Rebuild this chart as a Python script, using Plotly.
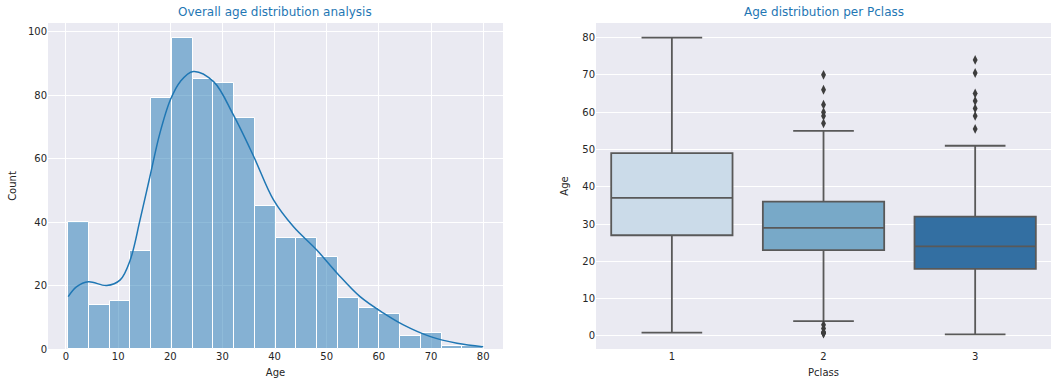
import plotly.graph_objects as go
from plotly.subplots import make_subplots

# ---- Data: histogram of Age ----
age_min = 0.42
age_max = 80.0
hist_counts = [40, 14, 15, 31, 79, 98, 85, 84, 73, 45, 35, 35, 29, 16, 13, 11, 4, 5, 1, 1]

# KDE curve (age, count-scaled density)
kde_age = [0.42, 2, 4.3, 7.8, 10.4, 12.3, 14.2, 16.1, 18, 20, 21.9, 24.4, 28.3, 32.1, 36,
           39.8, 43.6, 48.1, 52, 56.4, 60.9, 64.7, 69.9, 75, 80]
kde_val = [16.5, 19.6, 21.2, 20, 21.8, 28, 40.7, 54.4, 68, 78.5, 84.3, 87.5, 84.3, 73.8, 60.7,
           47, 38.6, 31.2, 23.9, 16.5, 11.3, 7.6, 3.9, 1.8, 0.7]

# ---- Data: box plot per Pclass ----
pclass = ["1", "2", "3"]
box_low = [0.92, 4, 0.42]
box_q1 = [27, 23, 18]
box_med = [37, 29, 24]
box_q3 = [49, 36, 32]
box_high = [80, 55, 51]
box_colors = ["#cbdbe9", "#78a9c8", "#336fa2"]
outliers = {
    "2": [57, 59, 60, 62, 66, 70, 3, 2, 1, 0.92, 0.83, 0.67],
    "3": [55.5, 59, 61, 63, 65, 70.5, 74],
}

title_left = "Overall age distribution analysis"
title_right = "Age distribution per Pclass"

fig = make_subplots(rows=1, cols=2, horizontal_spacing=0.0928)

# Histogram bars
n_bins = len(hist_counts)
bw = (age_max - age_min) / n_bins
centers = [age_min + bw * (i + 0.5) for i in range(n_bins)]
fig.add_trace(go.Bar(
    x=centers, y=hist_counts, width=[bw] * n_bins,
    marker=dict(color="rgba(31,119,180,0.5)", line=dict(color="white", width=1)),
    showlegend=False, hoverinfo="x+y"), row=1, col=1)

fig.add_trace(go.Scatter(
    x=kde_age, y=kde_val, mode="lines", line=dict(color="#1f77b4", width=1.5, shape="spline"),
    showlegend=False), row=1, col=1)

line_col = "#595959"
for i, pc in enumerate(pclass):
    fig.add_trace(go.Box(
        x=[pc], q1=[box_q1[i]], median=[box_med[i]], q3=[box_q3[i]],
        lowerfence=[box_low[i]], upperfence=[box_high[i]],
        fillcolor=box_colors[i], line=dict(color=line_col, width=1.8),
        whiskerwidth=0.5, width=0.8, boxpoints=False, showlegend=False,
        name=pc), row=1, col=2)
    if pc in outliers:
        fig.add_trace(go.Scatter(
            x=[pc] * len(outliers[pc]), y=outliers[pc], mode="markers",
            marker=dict(symbol="diamond-tall", size=7, color="#3d3d3d"),
            showlegend=False), row=1, col=2)

bg = "#eaeaf2"
font_col = "#262626"
fig.update_layout(
    width=1058, height=387,
    margin=dict(l=48, r=7, t=23, b=38, autoexpand=False),
    paper_bgcolor="white", plot_bgcolor=bg,
    font=dict(family="DejaVu Sans", size=10, color=font_col),
    bargap=0,
)
axis_title_font = dict(size=10, color=font_col, family="DejaVu Sans")
fig.update_xaxes(domain=[0, 0.4536], range=[-3.45, 83.8], tickvals=list(range(0, 81, 10)),
                 showgrid=True, gridcolor="white", gridwidth=1, zeroline=False, automargin=False,
                 title=dict(text="Age", standoff=7, font=axis_title_font), ticks="", row=1, col=1)
fig.update_yaxes(range=[0, 102.8], tickvals=list(range(0, 101, 20)), showgrid=True,
                 gridcolor="white", gridwidth=1, zeroline=False, automargin=False,
                 title=dict(text="Count", standoff=9, font=axis_title_font), ticks="", row=1, col=1)
fig.update_xaxes(domain=[0.5464, 1], type="category", range=[-0.5, 2.5], showgrid=False,
                 zeroline=False, automargin=False,
                 title=dict(text="Pclass", standoff=7, font=axis_title_font), ticks="", row=1, col=2)
fig.update_yaxes(range=[-3.49, 83.9], tickvals=list(range(0, 81, 10)), showgrid=True,
                 gridcolor="white", gridwidth=1, zeroline=False, automargin=False,
                 title=dict(text="Age", standoff=11, font=axis_title_font), ticks="", row=1, col=2)

fig.add_annotation(text=title_left, xref="x domain", yref="paper", x=0.5, y=1, yshift=2,
                   xanchor="center", yanchor="bottom", showarrow=False,
                   font=dict(size=12, color="#1f77b4", family="DejaVu Sans"))
fig.add_annotation(text=title_right, xref="x2 domain", yref="paper", x=0.5, y=1, yshift=2,
                   xanchor="center", yanchor="bottom", showarrow=False,
                   font=dict(size=12, color="#1f77b4", family="DejaVu Sans"))

fig.write_html("out.html", config={"displayModeBar": False},
               post_script="document.body.style.margin='0';document.body.style.overflow='hidden';")
